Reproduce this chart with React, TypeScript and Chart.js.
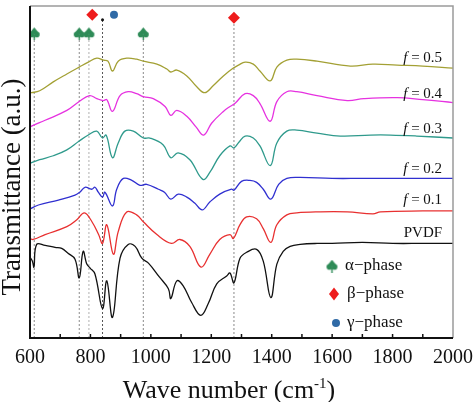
import { useEffect, useRef } from 'react';
import { Chart, registerables } from 'chart.js';

Chart.register(...registerables);

type P = [number, number];

// ---- data (wave number cm^-1, transmittance a.u. with vertical offsets) ----
const xMin = 600;
const xMax = 2000;
const yMin = 0;
const yMax = 337;
const xTickLabels = [600, 800, 1000, 1200, 1400, 1600, 1800, 2000];

const seriesNames = ['f = 0.5', 'f = 0.4', 'f = 0.3', 'f = 0.2', 'f = 0.1', 'PVDF'];
const seriesColors = ['#a3a034', '#e632e0', '#2f9a8c', '#3030d0', '#e83030', '#111111'];
const seriesLabelY = [280, 244, 208, 167, 136, 103];
const seriesLabelX = 1964;

const f05: P[] = [[600,249],[605,249],[632,251],[677,260],[722,268],[763,275],[793,280],[821,284],[843,282],[858,281],[873,271],[892,281],[920,284],[953,283],[975,281],[1020,278],[1053,273],[1066,270],[1086,272],[1119,266],[1152,255],[1178,249],[1206,256],[1240,266],[1273,274],[1290,277],[1312,280],[1339,278],[1361,271],[1395,261],[1417,275],[1450,282],[1483,283],[1550,281],[1660,276],[1735,278],[1815,277],[1900,276],[2000,274]];
const f04: P[] = [[600,214],[605,215],[650,221],[722,231],[763,240],[797,246],[821,243],[843,241],[854,242],[873,230],[898,246],[925,250],[953,248],[975,245],[1008,243],[1047,235],[1066,226],[1086,231],[1119,225],[1150,214],[1175,206],[1201,218],[1240,230],[1262,235],[1278,238],[1312,248],[1339,246],[1361,238],[1395,220],[1417,240],[1450,250],[1483,250],[1550,246],[1650,241],[1705,243],[1815,244],[1900,242],[2000,239]];
const f03: P[] = [[600,177],[605,178],[632,181],[677,185],[722,191],[763,200],[793,206],[821,210],[840,203],[852,206],[873,183],[892,198],[914,210],[942,210],[975,203],[997,203],[1041,196],[1066,183],[1090,188],[1129,181],[1172,161],[1195,168],[1228,185],[1262,195],[1275,193],[1292,199],[1312,205],[1339,203],[1361,195],[1395,175],[1417,198],[1450,210],[1483,211],[1550,208],[1627,205],[1727,206],[1793,206],[1880,205],[2000,203]];
const f02: P[] = [[600,131],[628,135],[694,140],[749,145],[765,148],[782,153],[804,151],[815,153],[826,148],[840,143],[848,148],[873,134],[887,151],[909,162],[937,160],[964,155],[986,156],[1025,151],[1045,148],[1066,141],[1091,146],[1119,143],[1145,137],[1170,130],[1195,138],[1228,146],[1267,151],[1275,150],[1300,159],[1328,160],[1350,158],[1372,151],[1397,141],[1423,156],[1450,162],[1494,163],[1600,162],[1700,162],[1800,162],[1900,162],[2000,162]];
const f01: P[] = [[600,101],[610,100],[650,105],[722,113],[755,120],[780,127],[805,118],[827,105],[840,96],[854,115],[876,85],[892,108],[920,128],[953,125],[975,118],[1020,105],[1068,96],[1096,100],[1129,93],[1166,72],[1195,85],[1228,100],[1262,105],[1273,101],[1295,115],[1317,123],[1350,121],[1372,111],[1397,97],[1417,115],[1450,125],[1483,127],[1550,128],[1650,128],[1735,126],[1760,128],[1900,129],[2000,129]];
const pvdf: P[] = [[600,82],[608,78],[613,72],[622,95],[650,94],[683,92],[705,91],[726,86],[749,80],[763,61],[776,88],[788,75],[799,71],[815,65],[840,30],[854,58],[873,21],[898,81],[925,95],[948,93],[970,81],[992,76],[1028,62],[1058,50],[1066,40],[1086,58],[1107,53],[1135,36],[1165,23],[1190,35],[1218,55],[1251,63],[1262,66],[1275,56],[1295,81],[1317,87],[1350,90],[1372,78],[1397,41],[1417,75],[1438,88],[1461,93],[1494,95],[1550,96],[1600,96],[1700,97],[1800,96],[1900,96],[2000,96]];
const seriesData = [f05, f04, f03, f02, f01, pvdf];

const alphaPeakX = [614, 763, 795, 975];
const alphaMarkerY = [309, 309, 309, 309];
const betaPeakX = [806, 1275];
const betaMarkerY = [328, 325];
const gammaPeakX = [878];
const gammaMarkerY = [328];
const guideLineX = [614, 763, 795, 840, 975, 1275];
const guideLineTop = [309, 309, 309, 323, 309, 325];
const guideLineColors = ['#8a8a8a', '#8a8a8a', '#b0b0b0', '#555555', '#8a8a8a', '#8a8a8a'];

const legendNames = ['α−phase', 'β−phase', 'γ−phase'];
const alphaColor = '#2e8b57';
const betaColor = '#ee1c1c';
const gammaColor = '#2f6aa6';

const SERIF = '"Liberation Serif", "Times New Roman", serif';

function makeSpade(color: string): HTMLCanvasElement {
  const c = document.createElement('canvas');
  c.width = 13;
  c.height = 13;
  const g = c.getContext('2d')!;
  g.fillStyle = color;
  g.beginPath();
  g.moveTo(6.5, 0.3);
  g.lineTo(1.2, 6.8);
  g.lineTo(11.8, 6.8);
  g.closePath();
  g.fill();
  g.beginPath();
  g.arc(3.9, 7.4, 2.8, 0, Math.PI * 2);
  g.fill();
  g.beginPath();
  g.arc(9.1, 7.4, 2.8, 0, Math.PI * 2);
  g.fill();
  g.fillRect(5.8, 8, 1.4, 5);
  return c;
}

export default function App() {
  const ref = useRef<HTMLCanvasElement | null>(null);

  useEffect(() => {
    document.body.style.margin = '0';
    const canvas = ref.current;
    if (!canvas) return;
    const spade = makeSpade(alphaColor);

    const datasets: any[] = [];
    seriesData.forEach((d, i) => {
      datasets.push({
        label: seriesNames[i],
        data: d.map(([x, y]) => ({ x, y })),
        borderColor: seriesColors[i],
        borderWidth: 1.3,
        pointRadius: 0,
        fill: false,
        tension: 0.4,
        order: 1,
      });
    });
    guideLineX.forEach((x, i) => {
      datasets.push({
        label: 'guide' + i,
        data: [{ x, y: yMin }, { x, y: guideLineTop[i] }],
        borderColor: guideLineColors[i],
        borderWidth: 1,
        borderDash: [2, 2],
        pointRadius: 0,
        order: 5,
      });
    });
    datasets.push({
      label: 'dot',
      data: [{ x: guideLineX[3], y: guideLineTop[3] }],
      showLine: false,
      pointRadius: 1.5,
      pointBackgroundColor: '#111',
      pointBorderWidth: 0,
      order: 0,
    });
    datasets.push({
      label: 'alpha',
      data: alphaPeakX.map((x, i) => ({ x, y: alphaMarkerY[i] })),
      showLine: false,
      pointStyle: spade,
      order: 0,
    });
    datasets.push({
      label: 'beta',
      data: betaPeakX.map((x, i) => ({ x, y: betaMarkerY[i] })),
      showLine: false,
      pointStyle: 'rectRot',
      pointRadius: 6,
      pointBackgroundColor: betaColor,
      pointBorderWidth: 0,
      order: 0,
    });
    datasets.push({
      label: 'gamma',
      data: gammaPeakX.map((x, i) => ({ x, y: gammaMarkerY[i] })),
      showLine: false,
      pointStyle: 'circle',
      pointRadius: 4,
      pointBackgroundColor: gammaColor,
      pointBorderWidth: 0,
      order: 0,
    });

    const decor = {
      id: 'decor',
      afterDraw(chart: any) {
        const ctx = chart.ctx as CanvasRenderingContext2D;
        const a = chart.chartArea;
        const xs = chart.scales.x;
        const ys = chart.scales.y;
        ctx.save();
        // frame
        ctx.strokeStyle = '#9a9a9a';
        ctx.lineWidth = 1.5;
        ctx.beginPath();
        ctx.moveTo(a.left, a.top);
        ctx.lineTo(a.right, a.top);
        ctx.lineTo(a.right, a.bottom);
        ctx.stroke();
        ctx.strokeStyle = '#111';
        ctx.lineWidth = 2;
        ctx.beginPath();
        ctx.moveTo(a.left, a.top);
        ctx.lineTo(a.left, a.bottom);
        ctx.lineTo(a.right, a.bottom);
        ctx.stroke();
        // inward ticks
        ctx.lineWidth = 1.5;
        for (let v = xMin + 100; v < xMax; v += 100) {
          const px = xs.getPixelForValue(v);
          ctx.beginPath();
          ctx.moveTo(px, a.bottom);
          ctx.lineTo(px, a.bottom - 4);
          ctx.stroke();
        }
        // series labels
        ctx.fillStyle = '#111';
        ctx.textBaseline = 'alphabetic';
        ctx.textAlign = 'left';
        const right = xs.getPixelForValue(seriesLabelX);
        seriesNames.forEach((name, i) => {
          const by = ys.getPixelForValue(seriesLabelY[i]);
          if (name.startsWith('f')) {
            const rest = name.slice(1);
            ctx.font = 'italic 15px ' + SERIF;
            const w1 = ctx.measureText('f').width;
            ctx.font = '15px ' + SERIF;
            const w2 = ctx.measureText(rest).width;
            const x0 = right - w1 - w2;
            ctx.font = 'italic 15px ' + SERIF;
            ctx.fillText('f', x0, by);
            ctx.font = '15px ' + SERIF;
            ctx.fillText(rest, x0 + w1, by);
          } else {
            ctx.font = '15px ' + SERIF;
            const w = ctx.measureText(name).width;
            ctx.fillText(name, right - w, by);
          }
        });
        // legend
        const lx = a.right - 121;
        const rows = [a.top + 260, a.top + 288, a.top + 317];
        ctx.font = '17px ' + SERIF;
        ctx.textBaseline = 'middle';
        ctx.drawImage(spade, lx - 6.5, rows[0] - 6.5);
        ctx.fillStyle = betaColor;
        ctx.beginPath();
        ctx.moveTo(lx + 2, rows[1] - 6.5);
        ctx.lineTo(lx + 7, rows[1]);
        ctx.lineTo(lx + 2, rows[1] + 6.5);
        ctx.lineTo(lx - 3, rows[1]);
        ctx.closePath();
        ctx.fill();
        ctx.fillStyle = gammaColor;
        ctx.beginPath();
        ctx.arc(lx + 4, rows[2], 4, 0, Math.PI * 2);
        ctx.fill();
        ctx.fillStyle = '#111';
        ctx.fillText(legendNames[0], lx + 13, rows[0]);
        ctx.fillText(legendNames[1], lx + 15, rows[1]);
        ctx.fillText(legendNames[2], lx + 15, rows[2]);
        // x title
        ctx.textBaseline = 'alphabetic';
        ctx.font = '26px ' + SERIF;
        const t1 = 'Wave number (cm';
        const t3 = ')';
        const w1 = ctx.measureText(t1).width;
        const w3 = ctx.measureText(t3).width;
        ctx.font = '15px ' + SERIF;
        const t2 = '-1';
        const w2 = ctx.measureText(t2).width;
        const total = w1 + w2 + w3;
        const cx = 229;
        const base = 398;
        const x0 = cx - total / 2;
        ctx.font = '26px ' + SERIF;
        ctx.fillText(t1, x0, base);
        ctx.font = '15px ' + SERIF;
        ctx.fillText(t2, x0 + w1, base - 10);
        ctx.font = '26px ' + SERIF;
        ctx.fillText(t3, x0 + w1 + w2, base);
        // y title
        ctx.save();
        ctx.translate(20, 187);
        ctx.rotate(-Math.PI / 2);
        ctx.font = '27px ' + SERIF;
        ctx.textAlign = 'center';
        ctx.textBaseline = 'alphabetic';
        ctx.fillText('Transmittance (a.u.)', 0, 0);
        ctx.restore();
        ctx.restore();
      },
    };

    const chart = new Chart(canvas, {
      type: 'line',
      data: { datasets },
      options: {
        responsive: false,
        animation: false,
        devicePixelRatio: 1,
        layout: { padding: { top: 1, right: 21, left: 0, bottom: 0 } },
        plugins: { legend: { display: false }, tooltip: { enabled: false } },
        scales: {
          x: {
            type: 'linear',
            min: xMin,
            max: xMax,
            afterBuildTicks: (s: any) => {
              s.ticks = xTickLabels.map((v) => ({ value: v }));
            },
            ticks: {
              autoSkip: false,
              maxRotation: 0,
              padding: 8,
              color: '#111',
              font: { family: SERIF, size: 20 },
              callback: (v: any) => String(v),
            },
            grid: { display: false, drawTicks: false },
            border: { display: false },
            afterFit: (s: any) => {
              s.height = 64;
              s.paddingLeft = 0;
              s.paddingRight = 0;
            },
          },
          y: {
            type: 'linear',
            min: yMin,
            max: yMax,
            ticks: { display: false },
            grid: { display: false, drawTicks: false },
            border: { display: false },
            afterFit: (s: any) => {
              s.width = 30;
            },
          },
        },
      } as any,
      plugins: [decor],
    });
    return () => chart.destroy();
  }, []);

  return (
    <div style={{ width: 474, height: 402 }}>
      <canvas ref={ref} width={474} height={402} style={{ display: 'block', width: 474, height: 402 }} />
    </div>
  );
}
